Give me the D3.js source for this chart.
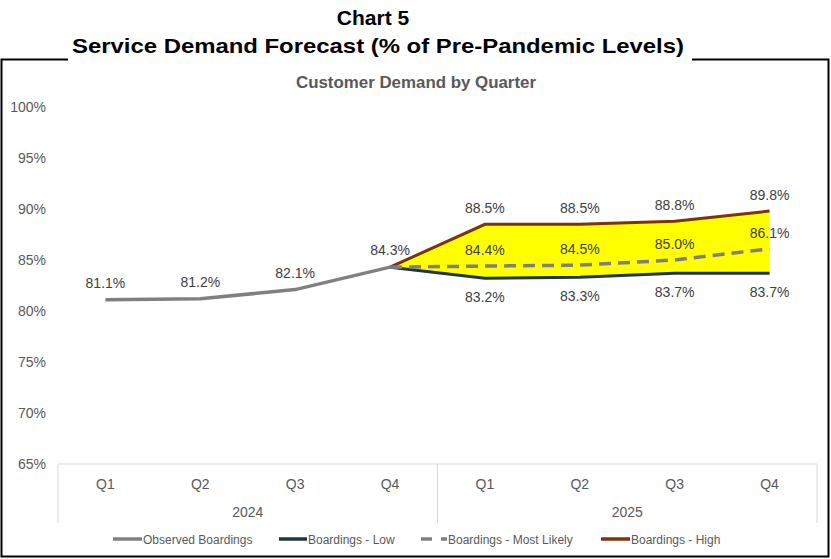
<!DOCTYPE html>
<html><head><meta charset="utf-8">
<script src="https://cdn.jsdelivr.net/npm/d3@7"></script>
<style>
html,body{margin:0;padding:0;background:#fff;}
svg text{font-family:"Liberation Sans",Arial,sans-serif;}
</style></head>
<body><svg id="c" width="831" height="559"></svg>
<script>
const quarters = ["Q1","Q2","Q3","Q4","Q1","Q2","Q3","Q4"];
const years = ["2024","2025"];
const yearOf = ["2024","2024","2024","2024","2025","2025","2025","2025"];
const observed = [81.1,81.2,82.1,84.3,null,null,null,null];
const low =      [null,null,null,84.3,83.2,83.3,83.7,83.7];
const likely =   [null,null,null,84.3,84.4,84.5,85.0,86.1];
const high =     [null,null,null,84.3,88.5,88.5,88.8,89.8];
const yTicks = [65,70,75,80,85,90,95,100];
const seriesNames = ["Observed Boardings","Boardings - Low","Boardings - Most Likely","Boardings - High"];

const svg = d3.select("#c");
const idx = d3.range(quarters.length);
const x = d3.scaleBand().domain(idx).range([58,817]);
const xc = i => x(i) + x.bandwidth()/2;
const y = d3.scaleLinear().domain([65,100]).range([464,107]);

// frame
svg.append("rect").attr("x",1.5).attr("y",59.5).attr("width",827).attr("height",497)
  .attr("fill","none").attr("stroke","#000").attr("stroke-width",2);
// titles
svg.append("rect").attr("x",68).attr("y",50).attr("width",624).attr("height",14).attr("fill","#fff");
svg.append("text").attr("x",373).attr("y",25).attr("text-anchor","middle")
  .attr("font-size",21).attr("font-weight","bold").text("Chart 5");
svg.append("text").attr("x",378).attr("y",53).attr("text-anchor","middle")
  .attr("font-size",21).attr("font-weight","bold")
  .attr("textLength",612).attr("lengthAdjust","spacingAndGlyphs")
  .text("Service Demand Forecast (% of Pre-Pandemic Levels)");
svg.append("text").attr("x",416).attr("y",88).attr("text-anchor","middle")
  .attr("font-size",16).attr("font-weight","bold").attr("fill","#595959")
  .attr("textLength",240).attr("lengthAdjust","spacingAndGlyphs")
  .text("Customer Demand by Quarter");

// y axis
const ya = svg.append("g").attr("transform","translate(58,0)")
  .call(d3.axisLeft(y).tickValues(yTicks).tickSize(0).tickPadding(12).tickFormat(d=>d+"%"));
ya.select(".domain").remove();
ya.selectAll("text").attr("font-size",14).attr("fill","#595959").attr("font-family","Liberation Sans, Arial");

// x axis
const axisCol = "#d9d9d9";
svg.append("line").attr("x1",58).attr("x2",817).attr("y1",y(65)).attr("y2",y(65)).attr("stroke",axisCol);
const bounds = [0,4,8];
bounds.forEach(b=>{
  const bx = b<8 ? x(b) : x(7)+x.bandwidth();
  svg.append("line").attr("x1",bx).attr("x2",bx).attr("y1",y(65)).attr("y2",523).attr("stroke",axisCol);
});
svg.append("g").selectAll("text").data(idx).join("text")
  .attr("x",xc).attr("y",489).attr("text-anchor","middle").attr("font-size",14).attr("fill","#595959")
  .text(i=>quarters[i]);
svg.append("g").selectAll("text").data(years).join("text")
  .attr("x",yr=>{const ii=idx.filter(i=>yearOf[i]===yr);return (x(ii[0])+x(ii[ii.length-1])+x.bandwidth())/2;})
  .attr("y",517).attr("text-anchor","middle").attr("font-size",14).attr("fill","#595959")
  .text(d=>d);

// area
const band = idx.filter(i=>low[i]!=null);
svg.append("path").datum(band)
  .attr("d",d3.area().x(xc).y0(i=>y(low[i])).y1(i=>y(high[i])))
  .attr("fill","#ffff00");

const line = arr => d3.line().defined(i=>arr[i]!=null).x(xc).y(i=>y(arr[i]));
const colors = {obs:"#808080",low:"#1f3546",likely:"#7f7f7f",high:"#7a3510"};
svg.append("path").datum(idx).attr("d",line(observed)).attr("fill","none")
  .attr("stroke",colors.obs).attr("stroke-width",3.5);
svg.append("path").datum(idx).attr("d",line(low)).attr("fill","none")
  .attr("stroke",colors.low).attr("stroke-width",3);
svg.append("path").datum(idx).attr("d",line(high)).attr("fill","none")
  .attr("stroke",colors.high).attr("stroke-width",3);
svg.append("path").datum(idx).attr("d",line(likely)).attr("fill","none")
  .attr("stroke",colors.likely).attr("stroke-width",3.5).attr("stroke-dasharray","12,7");

// labels
function labels(arr, which, dy){
  svg.append("g").selectAll("text").data(which).join("text")
    .attr("x",xc).attr("y",i=>y(arr[i])+dy).attr("text-anchor","middle")
    .attr("font-size",14).attr("fill","#404040").text(i=>arr[i].toFixed(1)+"%");
}
labels(observed,[0,1,2,3],-12);
labels(low,[4,5,6,7],24);
labels(likely,[4,5,6,7],-11);
labels(high,[4,5,6,7],-11);

// legend
const lg = svg.append("g");
const legItems = [
  {name:seriesNames[0],x1:113,x2:142,tx:143,c:colors.obs,dash:null},
  {name:seriesNames[1],x1:279,x2:307,tx:308,c:colors.low,dash:null},
  {name:seriesNames[2],x1:421,x2:447,tx:448,c:colors.likely,dash:"11,9"},
  {name:seriesNames[3],x1:601,x2:630,tx:631,c:colors.high,dash:null}
];
legItems.forEach(d=>{
  lg.append("line").attr("x1",d.x1).attr("x2",d.x2).attr("y1",539).attr("y2",539)
    .attr("stroke",d.c).attr("stroke-width",3.5).attr("stroke-dasharray",d.dash);
  lg.append("text").attr("x",d.tx).attr("y",543.5).attr("font-size",12).attr("fill","#595959").text(d.name);
});
</script></body></html>
